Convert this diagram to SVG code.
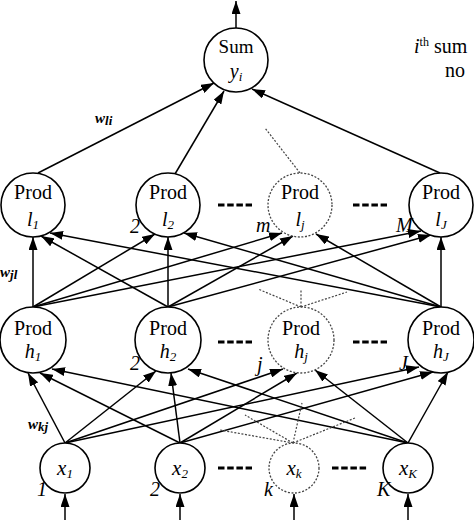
<svg xmlns="http://www.w3.org/2000/svg" width="474" height="520" viewBox="0 0 474 520">
<defs>
<marker id="ah" markerUnits="userSpaceOnUse" markerWidth="13" markerHeight="9" refX="13" refY="4.5" orient="auto">
<path d="M0,0 L13,4.5 L0,9 z" fill="#000"/>
</marker>
</defs>
<style>
.n{fill:#fff;stroke:#000;stroke-width:1.6}
.d{fill:#fff;stroke:#444;stroke-width:1.3;stroke-dasharray:2 1.6}
.e{stroke:#000;stroke-width:1.5;fill:none;marker-end:url(#ah)}
.s{stroke:#444;stroke-width:1.2;stroke-dasharray:2 1.6;fill:none}
.dots{stroke:#000;stroke-width:3.2;stroke-dasharray:6.5 2.7}
text{font-family:"Liberation Serif","Times New Roman",serif;fill:#000}
.t{font-size:20px;text-anchor:middle}
.v{font-size:20px;font-style:italic;text-anchor:middle}
.sb{font-size:13px}
.lb{font-size:20px;font-style:italic}
.w{font-size:15px;font-weight:bold;font-style:italic}
</style>
<rect width="474" height="520" fill="#fff"/>
<g id="connectors">
<line class="e" x1="236" y1="28" x2="236" y2="1"/>
<line class="e" x1="38" y1="173" x2="214" y2="83"/>
<line class="e" x1="175" y1="174" x2="224" y2="91"/>
<line class="e" x1="440" y1="173" x2="252" y2="89"/>
<line class="s" x1="300" y1="173" x2="265" y2="128"/>
<line class="e" x1="33" y1="307" x2="33" y2="237"/>
<line class="e" x1="168" y1="307" x2="41" y2="236"/>
<line class="e" x1="441" y1="307" x2="50" y2="233"/>
<line class="e" x1="33" y1="307" x2="155" y2="234"/>
<line class="e" x1="168" y1="307" x2="168" y2="237"/>
<line class="e" x1="441" y1="307" x2="184" y2="233"/>
<line class="e" x1="33" y1="307" x2="282" y2="233"/>
<line class="e" x1="168" y1="307" x2="293" y2="236"/>
<line class="e" x1="441" y1="307" x2="316" y2="234"/>
<line class="e" x1="33" y1="307" x2="421" y2="231"/>
<line class="e" x1="168" y1="307" x2="431" y2="235"/>
<line class="e" x1="441" y1="307" x2="441" y2="237"/>
<line class="s" x1="301" y1="307" x2="258" y2="289"/>
<line class="s" x1="301" y1="307" x2="301" y2="289"/>
<line class="s" x1="301" y1="307" x2="347" y2="292"/>
<line class="e" x1="65" y1="443" x2="28" y2="373"/>
<line class="e" x1="180" y1="443" x2="40" y2="373"/>
<line class="e" x1="408" y1="443" x2="52" y2="369"/>
<line class="e" x1="65" y1="443" x2="156" y2="371"/>
<line class="e" x1="180" y1="443" x2="171" y2="373"/>
<line class="e" x1="408" y1="443" x2="188" y2="369"/>
<line class="e" x1="65" y1="443" x2="283" y2="369"/>
<line class="e" x1="180" y1="443" x2="297" y2="373"/>
<line class="e" x1="408" y1="443" x2="315" y2="370"/>
<line class="e" x1="65" y1="443" x2="419" y2="367"/>
<line class="e" x1="180" y1="443" x2="433" y2="372"/>
<line class="e" x1="408" y1="443" x2="448" y2="372"/>
<line class="s" x1="293" y1="443" x2="220" y2="430"/>
<line class="s" x1="293" y1="443" x2="245" y2="415"/>
<line class="s" x1="293" y1="443" x2="302" y2="403"/>
<line class="s" x1="293" y1="443" x2="355" y2="418"/>
<line class="e" x1="65" y1="520" x2="65" y2="494"/>
<line class="e" x1="180" y1="520" x2="180" y2="494"/>
<line class="e" x1="294" y1="520" x2="294" y2="494"/>
<line class="e" x1="408" y1="520" x2="408" y2="494"/>
<line class="dots" x1="218" y1="205" x2="252" y2="205"/>
<line class="dots" x1="353" y1="205" x2="387" y2="205"/>
<line class="dots" x1="218" y1="342" x2="252" y2="342"/>
<line class="dots" x1="353" y1="342" x2="387" y2="342"/>
<line class="dots" x1="218" y1="468" x2="252" y2="468"/>
<line class="dots" x1="332" y1="468" x2="367" y2="468"/>
</g>
<g id="sum">
<circle class="n" cx="236" cy="60" r="32"/>
<text class="t" x="236" y="53" style="font-size:19px">Sum</text>
<text class="v" x="236" y="78">y<tspan class="sb" dy="3">i</tspan></text>
</g>
<g id="l1"><circle class="n" cx="33" cy="205" r="32"/><text class="t" x="33" y="199">Prod</text><text class="v" x="33" y="226">l<tspan class="sb" dy="3">1</tspan></text></g>
<g id="l2"><circle class="n" cx="168" cy="205" r="32"/><text class="t" x="168" y="199">Prod</text><text class="v" x="168" y="226">l<tspan class="sb" dy="3">2</tspan></text></g>
<g id="lj"><circle class="d" cx="300" cy="205" r="32"/><text class="t" x="300" y="199">Prod</text><text class="v" x="300" y="226">l<tspan class="sb" dy="3">j</tspan></text></g>
<g id="lJ"><circle class="n" cx="441" cy="205" r="32"/><text class="t" x="441" y="199">Prod</text><text class="v" x="441" y="226">l<tspan class="sb" dy="3">J</tspan></text></g>
<g id="h1"><circle class="n" cx="33" cy="340" r="33"/><text class="t" x="33" y="335">Prod</text><text class="v" x="33" y="358">h<tspan class="sb" dy="3">1</tspan></text></g>
<g id="h2"><circle class="n" cx="168" cy="340" r="33"/><text class="t" x="168" y="335">Prod</text><text class="v" x="168" y="358">h<tspan class="sb" dy="3">2</tspan></text></g>
<g id="hj"><circle class="d" cx="301" cy="340" r="33"/><text class="t" x="301" y="335">Prod</text><text class="v" x="301" y="358">h<tspan class="sb" dy="3">j</tspan></text></g>
<g id="hJ"><circle class="n" cx="441" cy="340" r="33"/><text class="t" x="441" y="335">Prod</text><text class="v" x="441" y="358">h<tspan class="sb" dy="3">J</tspan></text></g>
<g id="x1"><circle class="n" cx="65" cy="468" r="25"/><text class="v" x="65" y="475" style="font-size:21px">x<tspan class="sb" dy="3">1</tspan></text></g>
<g id="x2"><circle class="n" cx="180" cy="468" r="25"/><text class="v" x="180" y="475" style="font-size:21px">x<tspan class="sb" dy="3">2</tspan></text></g>
<g id="xk"><circle class="d" cx="294" cy="468" r="25"/><text class="v" x="294" y="475" style="font-size:21px">x<tspan class="sb" dy="3">k</tspan></text></g>
<g id="xK"><circle class="n" cx="408" cy="468" r="25"/><text class="v" x="408" y="475" style="font-size:21px">x<tspan class="sb" dy="3">K</tspan></text></g>
<g id="labels">
<text class="lb" x="130" y="233">2</text>
<text class="lb" x="256" y="232">m</text>
<text class="lb" x="396" y="232">M</text>
<text class="lb" x="130" y="370">2</text>
<text class="lb" x="257" y="371">j</text>
<text class="lb" x="399" y="370">J</text>
<text class="lb" x="37" y="496">1</text>
<text class="lb" x="150" y="496">2</text>
<text class="lb" x="264" y="496">k</text>
<text class="lb" x="377" y="496">K</text>
<text class="w" x="95" y="123">w<tspan class="sb" dy="2">li</tspan></text>
<text class="w" x="0" y="277">w<tspan class="sb" dy="2">jl</tspan></text>
<text class="w" x="28" y="429">w<tspan class="sb" dy="2">kj</tspan></text>
<text x="414" y="53" style="font-size:20px"><tspan font-style="italic">i</tspan><tspan font-size="12" dy="-7">th</tspan><tspan dy="7"> sum</tspan></text>
<text x="445" y="77" style="font-size:20px">no</text>
</g>
</svg>
